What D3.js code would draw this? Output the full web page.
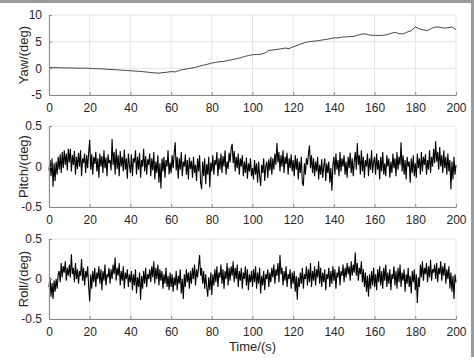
<!DOCTYPE html>
<html><head><meta charset="utf-8">
<script src="https://cdn.jsdelivr.net/npm/d3@7"></script>
<style>body{margin:0;background:#fff}svg{display:block}</style>
</head><body>
<script>
const xTicks = [0,20,40,60,80,100,120,140,160,180,200];
const yawTicks = [-5,0,5,10];
const angTicks = [-0.5,0,0.5];
const yawStep = 2;
const yaw = [.15,.12,.14,.1,.08,.09,.05,.04,.02,.03,0,-.05,-.08,-.1,-.16,-.2,-.25,-.3,-.36,-.4,
-.45,-.5,-.56,-.62,-.7,-.78,-.86,-.9,-.82,-.72,-.62,-.66,-.4,-.22,-.08,.05,.2,.42,.6,.78,
1.0,1.12,1.25,1.3,1.5,1.62,1.8,1.98,2.2,2.4,2.55,2.58,2.62,2.85,3.35,3.45,3.55,3.65,3.8,3.7,
4.05,4.3,4.6,4.85,5.0,5.1,5.15,5.3,5.4,5.55,5.7,5.72,5.85,5.9,5.95,6.0,6.25,6.45,6.4,6.2,
6.2,6.15,6.2,6.3,6.55,6.75,6.5,6.45,6.8,7.05,7.75,7.4,7.2,7.1,7.5,7.75,7.7,7.55,7.6,7.75,7.25];
const noiseStep = 0.5;
const pitch = [
-.05,.08,-.12,.1,-.25,.04,-.18,.06,-.1,.12,-.04,.15,-.08,.18,-.02,.2,.02,.16,-.05,.22,
.05,.22,-.06,.14,.02,.19,-.1,.12,-.03,.17,0,.2,-.12,.1,.04,.16,-.08,.14,-.02,.18,
.33,-.04,.15,-.1,.12,.03,.18,-.06,.1,-.14,.16,0,.13,-.08,.2,-.02,.11,-.12,.15,.04,
.08,-.05,.34,.02,.18,-.1,.22,-.03,.14,-.12,.19,0,.12,-.06,.21,-.04,.1,-.15,.16,.02,
-.08,.15,-.12,.1,.05,.2,-.1,.12,-.04,.17,-.14,.08,0,.22,-.06,.13,-.1,.09,.02,.16,
-.12,.1,-.05,.18,-.16,.06,-.08,.14,-.2,.04,-.27,.1,-.06,.12,-.14,.08,0,.2,-.1,.05,
-.08,.14,-.02,.16,.3,-.05,.12,-.15,.1,-.04,.18,-.12,.06,0,.15,-.1,.08,-.16,.11,-.03,
.07,-.14,.12,-.08,.02,-.18,.1,-.06,.14,-.2,-.28,.06,-.12,.1,-.22,.03,-.1,.12,-.26,.05,
-.06,.14,-.1,.08,.02,.18,-.12,.1,-.04,.16,-.08,.13,0,.2,-.1,.06,-.03,.17,.05,.22,
.28,.04,.19,-.06,.12,-.02,.16,-.1,.1,0,.14,-.12,.06,-.08,.11,-.15,.04,-.06,.1,-.12,
-.02,-.16,.08,-.1,.04,-.2,.06,-.12,-.24,.02,-.08,.1,-.18,0,.06,-.14,.09,-.05,.12,-.1,
.1,-.04,.16,.02,.29,.05,.18,-.06,.14,0,.2,-.08,.12,.03,.17,-.1,.1,-.02,.15,-.06,
.08,-.12,.14,-.04,.1,-.16,.06,-.08,.12,-.2,-.24,.04,-.1,.1,.02,.16,.26,-.02,.14,-.08,
.1,-.12,.06,-.06,.12,-.16,.02,-.1,.09,-.14,0,.1,-.18,.04,-.08,.06,-.2,-.02,-.3,.02,
.12,-.1,.16,-.04,.08,-.12,.18,-.06,.1,0,.14,-.1,.06,-.14,.12,-.02,.17,-.08,.1,-.12,
.06,.18,-.04,.29,.02,.14,-.1,.2,-.06,.12,-.14,.08,0,.16,-.12,.1,-.04,.2,-.08,.06,
.12,-.1,.16,-.04,.08,-.16,.12,-.06,.18,-.1,.04,-.12,.14,0,.1,-.14,.06,-.08,.16,-.02,
.1,-.12,.18,-.04,.12,.02,.3,-.06,.14,-.1,.08,-.16,.12,0,.06,-.2,.1,-.08,.14,-.12,
.04,-.14,.16,-.02,.1,-.1,.18,-.06,.12,.02,.15,-.1,.08,-.04,.2,-.08,.12,0,.22,.04,
.31,.06,.18,-.04,.24,0,.14,-.08,.2,-.02,.12,-.1,.16,-.06,.08,-.28,.06,-.16,.12,-.1,
.02];
const roll = [
-.1,.02,-.22,-.05,-.25,-.02,-.16,0,-.12,.06,.1,-.04,.2,.02,.16,.08,.22,-.02,.14,.04,
.18,.02,.31,.06,.14,-.04,.2,0,.12,-.06,.1,.04,.25,-.02,.14,-.08,.1,.02,.16,-.1,
-.28,.06,-.12,.1,-.04,.14,-.1,.08,0,.16,-.06,.12,-.14,.1,-.02,.18,-.08,.06,.02,.14,
-.06,.12,0,.18,.06,.27,-.02,.14,.04,.2,-.08,.1,-.02,.16,-.12,.08,0,.12,-.1,.06,
-.04,.1,-.14,.06,-.08,.12,-.18,.02,-.1,.08,-.26,.04,-.12,.1,-.06,.14,-.1,.06,0,.12,
-.04,.16,.02,.22,-.06,.14,0,.18,-.08,.12,-.02,.1,-.12,.06,-.06,.14,-.1,.04,-.14,.08,
-.1,.06,-.16,.02,-.08,.1,-.14,.04,-.06,.12,-.18,0,-.25,.06,-.1,.12,-.04,.08,-.12,.1,
-.06,.14,0,.18,-.08,.12,.02,.16,.3,.04,.14,-.06,.1,-.12,.06,-.1,-.22,.02,-.14,.08,
-.2,.06,-.08,.12,-.04,.16,-.1,.08,.02,.18,-.06,.12,-.12,.1,0,.2,-.08,.14,-.02,.16,
.04,.22,-.04,.14,0,.18,-.1,.1,-.02,.14,-.12,.08,0,.16,-.08,.12,-.14,.06,-.04,.1,
-.1,.12,-.04,.16,-.12,.08,-.06,.14,-.18,.04,-.08,.1,-.14,.06,0,.12,-.1,.08,-.04,.14,
.02,.18,-.06,.12,.04,.2,-.04,.3,.06,.14,-.08,.1,-.02,.16,-.1,.06,0,.12,-.12,.08,
-.06,.1,-.16,.04,-.26,.02,-.1,.08,-.06,.14,-.12,.06,0,.16,-.08,.12,-.04,.2,-.1,.1,
-.02,.16,-.08,.12,.02,.22,-.06,.14,-.1,.08,-.04,.12,-.14,.06,0,.14,-.1,.1,-.06,.16,
-.02,.12,-.12,.08,.02,.16,-.08,.1,.04,.18,-.04,.14,.02,.2,.06,.16,-.02,.22,.04,.18,
.08,.33,.04,.2,-.02,.14,.06,.22,-.04,.12,-.1,.08,-.16,.04,-.22,.06,-.12,.1,-.08,.14,
-.1,.06,-.14,.12,-.04,.16,-.08,.1,-.12,.14,-.02,.18,-.1,.08,-.06,.12,-.14,.06,0,.16,
-.08,.1,-.12,.14,-.04,.18,-.1,.08,-.02,.12,-.16,.06,-.06,.14,-.1,.04,-.18,.1,-.04,.12,
-.14,.06,-.3,.02,-.1,.18,.02,.22,-.02,.14,.06,.2,-.04,.16,.02,.24,-.02,.12,.08,.18,
0,.2,-.04,.14,.06,.22,-.02,.16,.04,.2,-.06,.12,0,.16,-.12,.08,-.16,.04,-.25,.06,
-.04];
const panels = [
  {label:"Yaw/(deg)", data:yaw, step:yawStep, domain:[-5,10], ticks:yawTicks, top:15, bottom:95, color:"#333", width:0.9},
  {label:"Pitch/(deg)", data:pitch, step:noiseStep, domain:[-0.5,0.5], ticks:angTicks, top:126, bottom:207, color:"#000", width:1.1},
  {label:"Roll/(deg)", data:roll, step:noiseStep, domain:[-0.5,0.5], ticks:angTicks, top:239, bottom:319, color:"#000", width:1.1}
];
const W=474,H=363;
const svg=d3.select("body").append("svg").attr("width",W).attr("height",H);
svg.append("rect").attr("width",W).attr("height",H).attr("fill","#fff");
const x=d3.scaleLinear().domain([0,200]).range([49,456]);
panels.forEach(p=>{
  const y=d3.scaleLinear().domain(p.domain).range([p.bottom,p.top]);
  const g=svg.append("g");
  g.selectAll(".vg").data(xTicks).enter().append("line")
    .attr("x1",d=>x(d)).attr("x2",d=>x(d)).attr("y1",p.top).attr("y2",p.bottom)
    .attr("stroke","#e3e3e3").attr("stroke-width",1);
  g.selectAll(".hg").data(p.ticks).enter().append("line")
    .attr("x1",49).attr("x2",456).attr("y1",d=>y(d)).attr("y2",d=>y(d))
    .attr("stroke","#e3e3e3").attr("stroke-width",1);
  const line=d3.line().x((d,i)=>x(i*p.step)).y(d=>y(d));
  g.append("path").datum(p.data).attr("d",line).attr("fill","none")
    .attr("stroke",p.color).attr("stroke-width",p.width).attr("stroke-linejoin","miter");
  const ax=d3.axisBottom(x).tickValues(xTicks).tickSizeInner(-3).tickSizeOuter(0).tickPadding(8);
  const ag=g.append("g").attr("transform",`translate(0,${p.bottom})`).call(ax);
  const ay=d3.axisLeft(y).tickValues(p.ticks).tickSizeInner(-3).tickSizeOuter(0).tickPadding(7).tickFormat(d=>String(d));
  const ayg=g.append("g").attr("transform",`translate(49,0)`).call(ay);
  [ag,ayg].forEach(a=>{
    a.select(".domain").attr("stroke","#8a8a8a");
    a.selectAll(".tick line").attr("stroke","#8a8a8a");
    a.selectAll("text").attr("fill","#262626").style("font-family","'Liberation Sans',Arial,sans-serif").style("font-size","12px");
  });
  svg.append("text").attr("transform",`translate(23,${(p.top+p.bottom)/2}) rotate(-90)`)
    .attr("text-anchor","middle").attr("dominant-baseline","central")
    .attr("fill","#262626").style("font-family","'Liberation Sans',Arial,sans-serif").style("font-size","13px").text(p.label);
});
svg.append("text").attr("x",x(100)).attr("y",346).attr("text-anchor","middle").attr("dominant-baseline","central")
  .attr("fill","#262626").style("font-family","'Liberation Sans',Arial,sans-serif").style("font-size","13px").text("Time/(s)");
svg.append("rect").attr("x",0).attr("y",0).attr("width",W).attr("height",3).attr("fill","#9a9a9a");
svg.append("rect").attr("x",471).attr("y",0).attr("width",3).attr("height",357).attr("fill","#9a9a9a");
</script>
</body></html>
